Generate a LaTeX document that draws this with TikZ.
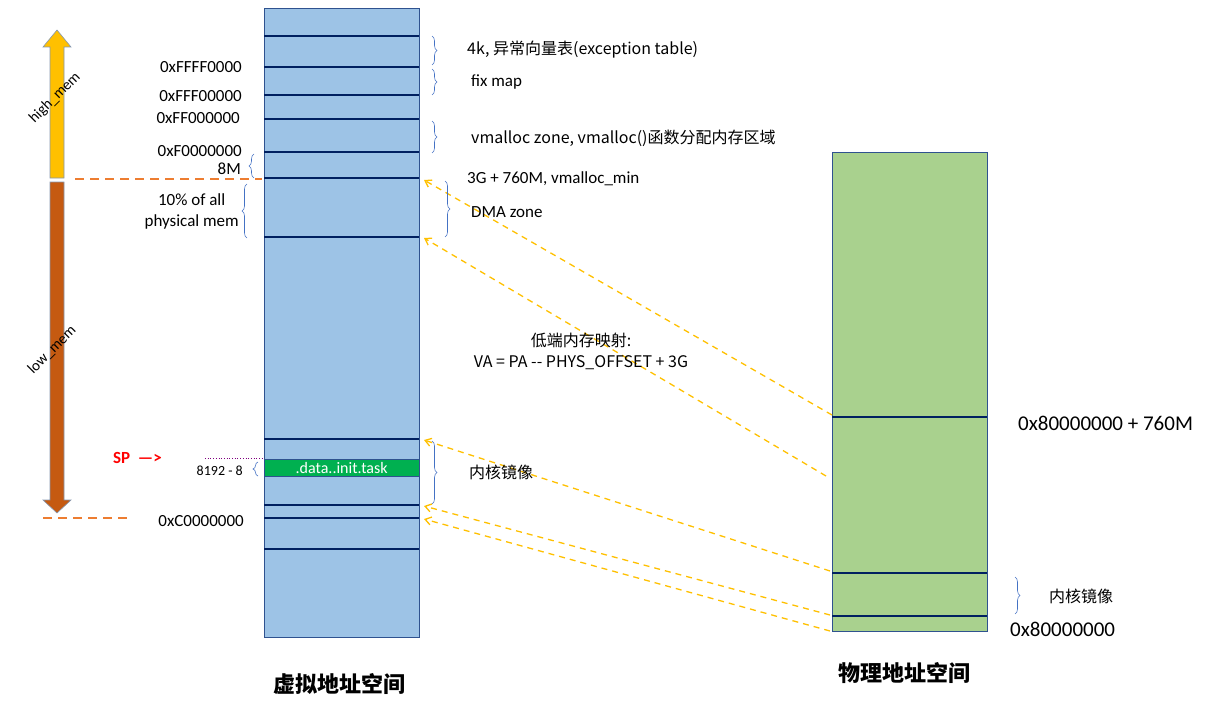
\documentclass[tikz,border=0pt]{standalone}
\usepackage{fontspec}
\setmainfont{Carlito}
\newfontfamily\cjk{Noto Sans CJK SC}
\usetikzlibrary{decorations.pathreplacing,arrows.meta}
\definecolor{vfill}{RGB}{157,195,230}
\definecolor{pfill}{RGB}{169,209,142}
\definecolor{edge}{RGB}{47,82,143}
\definecolor{navy}{RGB}{0,32,96}
\definecolor{gold}{RGB}{255,192,0}
\definecolor{rust}{RGB}{197,90,17}
\definecolor{grayb}{RGB}{132,151,176}
\definecolor{orng}{RGB}{237,125,49}
\definecolor{bbl}{RGB}{68,114,196}
\definecolor{grn}{RGB}{0,176,80}
\begin{document}
\begin{tikzpicture}[x=1pt,y=-1pt,
  vbar/.style={fill=vfill, draw=edge, line width=0.6pt},
  pbar/.style={fill=pfill, draw=edge, line width=0.6pt},
  sep/.style={draw=navy, line width=2pt},
  map/.style={draw=gold, line width=1.3pt, dash pattern=on 6pt off 5pt, -{Straight Barb[length=6pt,width=8pt]}},
  br/.style={draw=bbl, decorate, decoration={brace,amplitude=5pt}, line width=0.6pt},
  lbl/.style={font=\fontsize{17}{21}\selectfont, inner sep=1pt},
  bl/.style={font=\cjk\fontsize{16}{21}\selectfont, inner sep=1pt}]
\useasboundingbox (0,0) rectangle (1220,701);
% virtual bar
\node[vbar, minimum width=155pt, minimum height=629pt, inner sep=0, anchor=north west] (v) at (264,8) {};
\foreach \y in {36,67,95,119,152,178,237,439,505,518,549}{\draw[sep] (264,\y) -- (419,\y);}
\node[fill=grn, draw=edge, minimum width=155pt, minimum height=17pt, inner sep=0, anchor=north west, text=white, font=\fontsize{16}{18}\selectfont] (task) at (264,459) {.data..init.task};
% physical bar
\node[pbar, minimum width=155pt, minimum height=479pt, inner sep=0, anchor=north west] (p) at (832,152) {};
\foreach \y in {417,573,616}{\draw[sep] (832,\y) -- (987,\y);}
% mapping arrows
\coordinate (a1) at (832,415); \coordinate (b1) at (424,180);
\coordinate (a2) at (826,476); \coordinate (b2) at (424,238);
\coordinate (a3) at (830,571); \coordinate (b3) at (424,440);
\coordinate (a4) at (830,615); \coordinate (b4) at (424,506);
\coordinate (a5) at (830,631); \coordinate (b5) at (424,519);
\foreach \i in {1,...,5}{\draw[map] (a\i) -- (b\i);}
% left arrows
\filldraw[fill=gold, draw=grayb, line width=0.6pt] (50,178) -- (50,47) -- (43,47) -- (57,30) -- (71,47) -- (64,47) -- (64,178) -- cycle;
\filldraw[fill=rust, draw=grayb, line width=0.6pt] (50,182) -- (64,182) -- (64,500) -- (71,500) -- (57,513) -- (43,500) -- (50,500) -- cycle;
\node[lbl, rotate=45, font=\fontsize{15}{18}\selectfont] (hm) at (55,98) {high\_mem};
\node[lbl, rotate=45, font=\fontsize{15}{18}\selectfont] (lm) at (52,350) {low\_mem};
\draw[orng, line width=1.3pt, dash pattern=on 9pt off 6pt] (75,179) -- (262,179);
\draw[orng, line width=1.3pt, dash pattern=on 9pt off 6pt] (43,518) -- (128,518);
% left labels
\node[lbl, anchor=east] (l1) at (243,67) {0xFFFF0000};
\node[lbl, anchor=east] (l2) at (243,96) {0xFFF00000};
\node[lbl, anchor=east] (l3) at (241,118) {0xFF000000};
\node[lbl, anchor=east] (l4) at (243,151) {0xF0000000};
\node[lbl, anchor=east] (l5) at (242,169) {8M};
\node[lbl, anchor=east, align=center] (l6) at (240,211) {10\% of all\\physical mem};
\node[lbl, anchor=east] (l7) at (245,521) {0xC0000000};
\node[lbl, anchor=east, font=\fontsize{14}{16}\selectfont] (l8) at (244,471) {8192 - 8};
\node[lbl, anchor=west, text=red, font=\bfseries\fontsize{17}{20}\selectfont] (sp) at (112,458) {SP\ \ --->};
\draw[violet, dotted, line width=0.7pt] (205,458) -- (264,458);
\draw[br] (258,476) -- (258,462);
\draw[br] (254,178) -- (254,154);
\draw[br] (247,238) -- (247,184);
% right braces and labels
\draw[br] (432,36) -- (432,65);
\draw[br] (432,69) -- (432,95);
\draw[br] (432,121) -- (432,153);
\draw[br] (445,181) -- (445,237);
\draw[br] (432,441) -- (432,504);
\draw[br] (1015,577) -- (1015,614);
\node[bl, anchor=west] (r1) at (466,50) {4k, 异常向量表(exception table)};
\node[lbl, anchor=west] (r2) at (470,82) {fix map};
\node[bl, anchor=west] (r3) at (470,138) {vmalloc zone, vmalloc()函数分配内存区域};
\node[lbl, anchor=west] (r4) at (466,179) {3G + 760M, vmalloc\_min};
\node[lbl, anchor=west] (r5) at (470,212) {DMA zone};
\node[bl, align=center] (r6) at (581,351) {低端内存映射:\\VA = PA -- PHYS\_OFFSET + 3G};
\node[bl, anchor=west] (r7) at (468,472) {内核镜像};
\node[bl, anchor=west] (r8) at (1048,596) {内核镜像};
\node[lbl, anchor=west, font=\fontsize{21}{24}\selectfont] (r9) at (1017,423) {0x80000000 + 760M};
\node[lbl, anchor=west, font=\fontsize{21}{24}\selectfont] (r10) at (1009,629) {0x80000000};
\node[bl, font=\cjk\bfseries\fontsize{22}{26}\selectfont] (t1) at (339,684) {虚拟地址空间};
\node[bl, font=\cjk\bfseries\fontsize{22}{26}\selectfont] (t2) at (904,673) {物理地址空间};
\end{tikzpicture}
\end{document}
